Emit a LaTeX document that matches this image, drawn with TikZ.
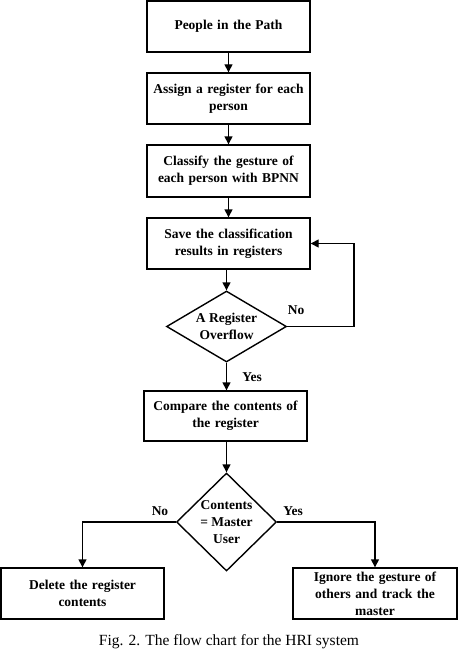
\documentclass[tikz,border=0pt]{standalone}
\usepackage{fontspec}
\setmainfont{Liberation Serif}
\usetikzlibrary{shapes.geometric,arrows.meta,calc}
\begin{document}
\begin{tikzpicture}[x=1pt,y=1pt,
  every node/.style={font=\fontsize{13.5}{17}\selectfont\bfseries},
  stepbox/.style={draw,line width=1.4pt,rectangle,minimum width=163pt,minimum height=51pt,align=center,inner sep=2pt,text width=158pt},
  decision/.style={draw,line width=1.4pt,diamond,inner sep=-2pt,align=center},
  arr/.style={line width=1.4pt,-{Triangle[length=8pt,width=8pt]}},
  lbl/.style={inner sep=1pt}]
\useasboundingbox (0,0) rectangle (474,-669);
\node[stepbox] (b1) at (228.5,-26.5) {People in the Path};
\node[stepbox] (b2) at (228.5,-98.5) {Assign a register for each\\person};
\node[stepbox,minimum height=52pt] (b3) at (228.5,-171) {Classify the gesture of\\each person with BPNN};
\node[stepbox] (b4) at (228.5,-243.5) {Save the classification\\results in registers};
\node[decision,minimum width=120pt,minimum height=71pt,aspect=1.69] (d1) at (226.5,-326.5) {A Register\\Overflow};
\node[stepbox,minimum height=50pt] (b5) at (225.5,-416) {Compare the contents of\\the register};
\node[decision,minimum width=100pt,minimum height=98pt,aspect=1.02] (d2) at (226.5,-522) {Contents\\= Master\\User};
\node[stepbox] (b6) at (82.5,-593.5) {Delete the register\\contents};
\node[stepbox,minimum width=164pt] (b7) at (375,-593.5) {Ignore the gesture of\\others and track the\\master};
\coordinate (loopx) at (354,0);
\draw[arr] (b1.south) -- (b2.north);
\draw[arr] (b2.south) -- (b3.north);
\draw[arr] (b3.south) -- (b4.north);
\draw[arr] (b4.south -| d1.north) -- (d1.north);
\draw[arr] (d1.east) -- (d1.east -| loopx) |- (b4.east);
\draw[arr] (d1.south) -- (d1.south |- b5.north);
\draw[arr] (d2.north |- b5.south) -- (d2.north);
\draw[arr] (d2.west) -| (b6.north);
\draw[arr] (d2.east) -| (b7.north);
\node[lbl] (no1) at (296,-310) {No};
\node[lbl] (yes1) at (252,-377) {Yes};
\node[lbl] (no2) at (160,-511) {No};
\node[lbl] (yes2) at (293,-511) {Yes};
\node[font=\fontsize{15.5}{18}\selectfont] (cap) at (229,-642) {Fig. 2. The flow chart for the HRI system};
\end{tikzpicture}
\end{document}
